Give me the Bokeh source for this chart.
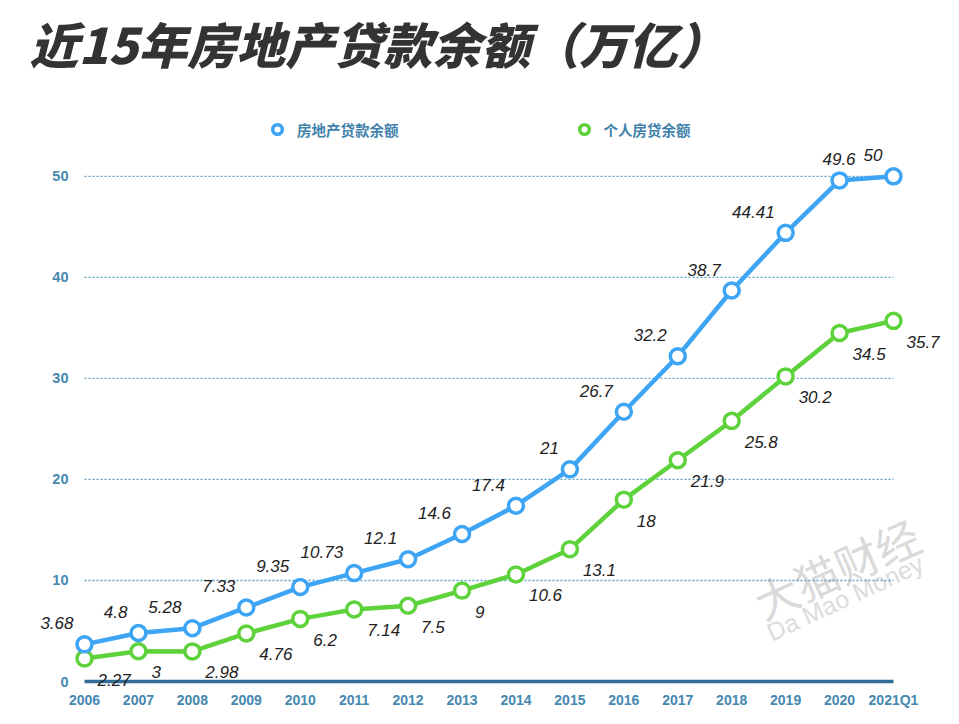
from bokeh.plotting import figure
from bokeh.models import (ColumnDataSource, LabelSet, Legend, LegendItem, FixedTicker,
                          Range1d, Label)
from bokeh.core.properties import value
from bokeh.embed import file_html
from bokeh.resources import INLINE

# ---- data ----
years = ["2006", "2007", "2008", "2009", "2010", "2011", "2012", "2013", "2014",
         "2015", "2016", "2017", "2018", "2019", "2020", "2021Q1"]
total_loans = [3.68, 4.8, 5.28, 7.33, 9.35, 10.73, 12.1, 14.6, 17.4, 21, 26.7,
               32.2, 38.7, 44.41, 49.6, 50]
personal_loans = [2.27, 3, 2.98, 4.76, 6.2, 7.14, 7.5, 9, 10.6, 13.1, 18, 21.9,
                  25.8, 30.2, 34.5, 35.7]
y_ticks = [0, 10, 20, 30, 40, 50]
series_names = ["房地产贷款余额", "个人房贷余额"]
title_text = "近15年房地产贷款余额（万亿）"

BLUE = "#3ea4f4"
GREEN = "#5dd23a"
AXIS_C = "#4688b0"

xs = list(range(len(years)))

# label offsets (styling)
blue_dx = [-11] * len(years)
blue_dx[-2] = 16

src_b = ColumnDataSource(dict(x=xs, y=total_loans, t=[f"{v:g}" for v in total_loans],
                              dx=blue_dx))
src_g = ColumnDataSource(dict(x=xs, y=personal_loans, t=[f"{v:g}" for v in personal_loans]))

p = figure(width=959, height=724, output_backend="svg", toolbar_location=None,
           x_range=Range1d(-0.89, len(years) - 1 + 1.057), y_range=Range1d(-0.79, 59.29),
           min_border_left=36, min_border_right=9, min_border_bottom=35, min_border_top=0,
           outline_line_color=None)
p.background_fill_color = "white"
p.border_fill_color = "white"

# title
p.title.text = title_text
p.title.text_font = "Noto Sans CJK SC Black"
p.title.text_font_size = "49px"
p.title.text_font_style = "bold italic"
p.title.text_color = "#333333"
p.title.offset = -7
p.title.standoff = 9

# grid lines (dotted) spanning the data range
p.xgrid.visible = False
p.ygrid.visible = False
for t in y_ticks[1:]:
    p.segment(x0=xs[0], x1=xs[-1], y0=t, y1=t, line_color="#5b9dc6",
              line_width=1.3, line_dash="2 2")
p.segment(x0=xs[0], x1=xs[-1], y0=0, y1=0, line_color="#2f6e94", line_width=3.5)

# axes
p.yaxis.fixed_location = 0
p.yaxis.ticker = FixedTicker(ticks=y_ticks)
p.yaxis.axis_line_color = None
p.yaxis.major_tick_line_color = None
p.yaxis.minor_tick_line_color = None
p.yaxis.major_tick_out = 0
p.yaxis.minor_tick_out = 0
p.yaxis.major_label_text_font = "Liberation Sans"
p.yaxis.major_label_text_font_style = "bold"
p.yaxis.major_label_text_font_size = "14.5px"
p.yaxis.major_label_text_color = AXIS_C
p.yaxis.major_label_standoff = 16

p.xaxis.ticker = FixedTicker(ticks=xs)
p.xaxis.major_label_overrides = {i: y for i, y in zip(xs, years)}
p.xaxis.axis_line_color = None
p.xaxis.major_tick_line_color = None
p.xaxis.minor_tick_line_color = None
p.xaxis.major_tick_out = 0
p.xaxis.minor_tick_out = 0
p.xaxis.major_label_text_font = "Liberation Sans"
p.xaxis.major_label_text_font_style = "bold"
p.xaxis.major_label_text_font_size = "14px"
p.xaxis.major_label_text_color = AXIS_C
p.xaxis.major_label_standoff = 2

# watermark
p.add_layout(Label(x=13.94, y=11.26, text="大猫财经", angle=24, angle_units="deg",
                   text_font="Noto Sans CJK SC", text_font_size="44px",
                   text_color="#dadada", text_align="center", text_baseline="middle",
                   level="underlay"))
p.add_layout(Label(x=14.1, y=8.3, text="Da Mao Money", angle=25, angle_units="deg",
                   text_font="Liberation Sans", text_font_size="25px",
                   text_color="#dcdcdc", text_align="center", text_baseline="middle",
                   level="underlay"))

# series
p.line("x", "y", source=src_g, line_color=GREEN, line_width=4.5)
sg = p.scatter("x", "y", source=src_g, size=15, fill_color="white", line_color=GREEN,
               line_width=3.5)
p.line("x", "y", source=src_b, line_color=BLUE, line_width=4.5)
sb = p.scatter("x", "y", source=src_b, size=15, fill_color="white", line_color=BLUE,
               line_width=3.5)

# data labels
p.add_layout(LabelSet(x="x", y="y", text="t", source=src_b, x_offset="dx", y_offset=21,
                      text_align="right", text_baseline="middle",
                      text_font=value("Liberation Sans"), text_font_style="italic",
                      text_font_size="17px", text_color="#222222"))
p.add_layout(LabelSet(x="x", y="y", text="t", source=src_g, x_offset=13, y_offset=-21,
                      text_align="left", text_baseline="middle",
                      text_font=value("Liberation Sans"), text_font_style="italic",
                      text_font_size="17px", text_color="#222222"))

legend = Legend(items=[LegendItem(label=series_names[0], renderers=[sb]),
                       LegendItem(label=series_names[1], renderers=[sg])],
                orientation="horizontal", location=(229, 548),
                border_line_color=None, background_fill_alpha=0,
                spacing=173, glyph_width=24, glyph_height=24, label_standoff=8,
                padding=4, margin=0,
                label_text_font="Noto Sans CJK SC", label_text_font_style="bold",
                label_text_font_size="14.5px", label_text_color="#4182ab")
p.add_layout(legend)

open("out.html", "w").write(file_html(p, INLINE))
